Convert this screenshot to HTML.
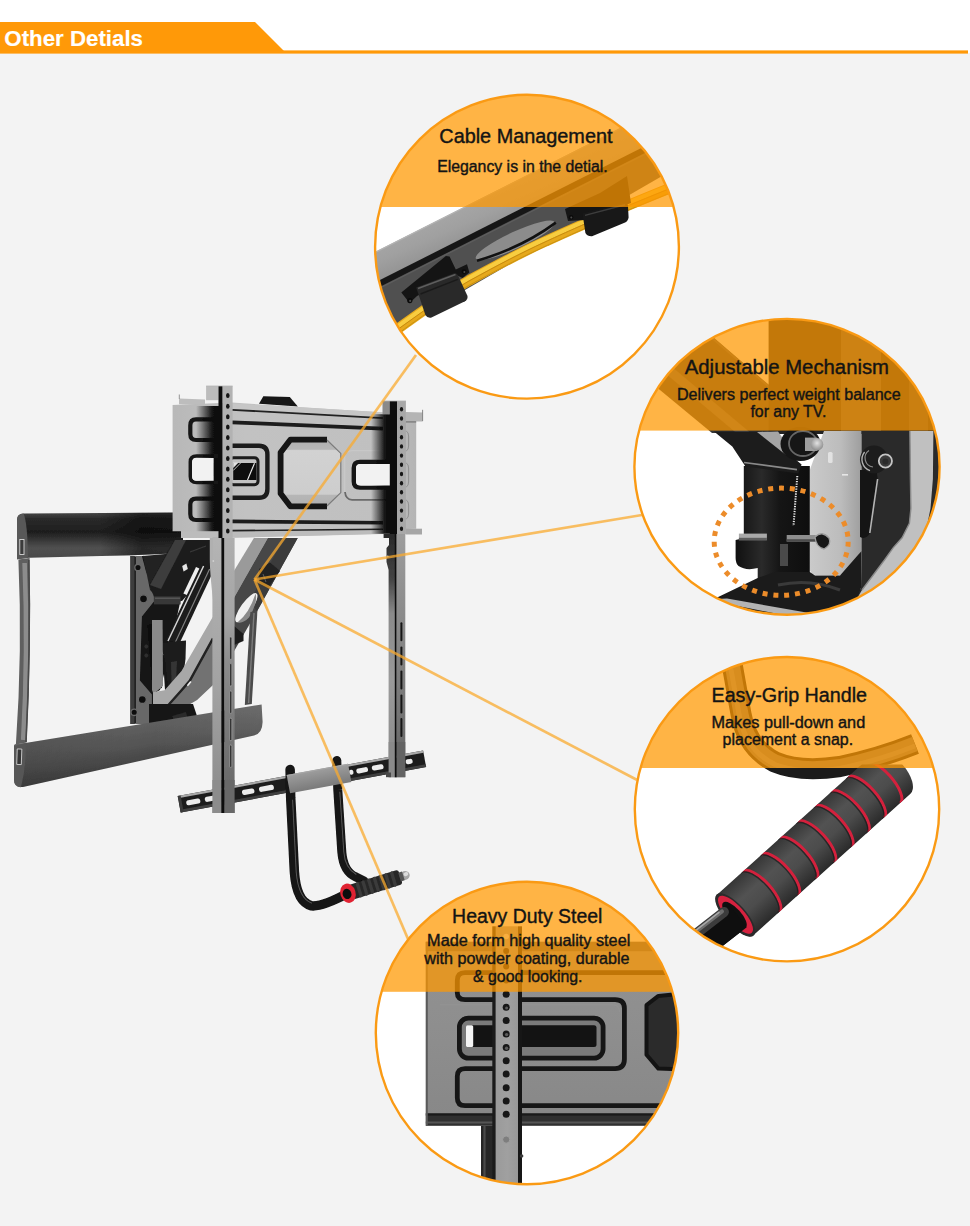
<!DOCTYPE html>
<html lang="en">
<head>
<meta charset="utf-8">
<title>Other Detials</title>
<style>
  html, body { margin: 0; padding: 0; background: #ffffff; }
  body { width: 970px; height: 1226px; overflow: hidden; font-family: "Liberation Sans", sans-serif; }
  svg { display: block; }
  text { font-family: "Liberation Sans", sans-serif; fill: #141414; stroke: #141414; stroke-width: 0.4px; }
</style>
</head>
<body>
<svg width="970" height="1226" viewBox="0 0 970 1226">
  <defs>
    <filter id="soft" x="-2%" y="-2%" width="104%" height="104%"><feGaussianBlur stdDeviation="0.45"/></filter>
    <clipPath id="c1"><circle cx="527" cy="246.7" r="151.6"/></clipPath>
    <clipPath id="c2"><ellipse cx="787" cy="466.8" rx="152.3" ry="147.6"/></clipPath>
    <clipPath id="c3"><circle cx="787" cy="809.2" r="152"/></clipPath>
    <clipPath id="c4"><circle cx="527" cy="1033" r="151"/></clipPath>
  </defs>

  <!-- page background -->
  <rect x="0" y="0" width="970" height="1226" fill="#ffffff"/>
  <rect x="0" y="53" width="970" height="1173" fill="#f3f3f3"/>

  <!-- header -->
  <g id="header">
    <polygon points="0,22 255,22 284,51 0,51" fill="#ff9908"/>
    <rect x="0" y="50.4" width="968" height="3.2" fill="#ff9908"/>
    <text x="4.3" y="46.3" font-size="22" font-weight="bold" style="fill:#ffffff;stroke:#ffffff;stroke-width:0.15px" textLength="138.7" lengthAdjust="spacingAndGlyphs">Other Detials</text>
  </g>

  <!-- PRODUCT -->
  <g id="product" filter="url(#soft)">
    <defs>
      <linearGradient id="gTopBar" x1="0" y1="0" x2="0" y2="1">
        <stop offset="0" stop-color="#484848"/><stop offset="0.14" stop-color="#2a2a2a"/><stop offset="0.42" stop-color="#1e1e1e"/>
        <stop offset="0.76" stop-color="#505050"/><stop offset="0.95" stop-color="#4a4a4a"/><stop offset="1" stop-color="#2a2a2a"/>
      </linearGradient>
      <linearGradient id="gTopBarShade" x1="0" y1="0" x2="1" y2="0">
        <stop offset="0" stop-color="#000" stop-opacity="0"/><stop offset="0.5" stop-color="#000" stop-opacity="0"/>
        <stop offset="0.75" stop-color="#000" stop-opacity="0.5"/><stop offset="1" stop-color="#000" stop-opacity="0.45"/>
      </linearGradient>
      <linearGradient id="gBotBar" gradientUnits="userSpaceOnUse" x1="130" y1="722" x2="138" y2="770">
        <stop offset="0" stop-color="#2a2a2a"/><stop offset="0.05" stop-color="#606060"/>
        <stop offset="0.5" stop-color="#545454"/><stop offset="1" stop-color="#3e3e3e"/>
      </linearGradient>
      <linearGradient id="gBotBarX" gradientUnits="userSpaceOnUse" x1="20" y1="0" x2="262" y2="0"><stop offset="0" stop-color="#000" stop-opacity="0.12"/><stop offset="0.45" stop-color="#000" stop-opacity="0"/><stop offset="0.55" stop-color="#fff" stop-opacity="0"/><stop offset="1" stop-color="#fff" stop-opacity="0.08"/></linearGradient>
      <linearGradient id="gPlate" x1="0" y1="0" x2="1" y2="0">
        <stop offset="0" stop-color="#b8b8b8"/><stop offset="0.3" stop-color="#c2c2c2"/><stop offset="0.85" stop-color="#c0c0c0"/><stop offset="1" stop-color="#b4b4b4"/>
      </linearGradient>
      <linearGradient id="gShadL" gradientUnits="userSpaceOnUse" x1="196" y1="0" x2="216" y2="0">
        <stop offset="0" stop-color="#0c0c0c" stop-opacity="0"/><stop offset="0.8" stop-color="#0c0c0c" stop-opacity="0.95"/><stop offset="1" stop-color="#0c0c0c"/>
      </linearGradient>
      <linearGradient id="gShadR" gradientUnits="userSpaceOnUse" x1="371" y1="0" x2="388" y2="0">
        <stop offset="0" stop-color="#0c0c0c" stop-opacity="0"/><stop offset="0.8" stop-color="#0c0c0c" stop-opacity="0.95"/><stop offset="1" stop-color="#0c0c0c"/>
      </linearGradient>
      <linearGradient id="gRailLR" gradientUnits="userSpaceOnUse" x1="0" y1="540" x2="0" y2="810">
        <stop offset="0" stop-color="#aeaeae"/><stop offset="0.28" stop-color="#a6a6a6"/><stop offset="0.45" stop-color="#8c8c8c"/><stop offset="0.6" stop-color="#808080"/><stop offset="0.82" stop-color="#707070"/><stop offset="1" stop-color="#646464"/>
      </linearGradient>
      <linearGradient id="gRailLL" gradientUnits="userSpaceOnUse" x1="0" y1="540" x2="0" y2="810">
        <stop offset="0" stop-color="#b4b4b4"/><stop offset="0.55" stop-color="#a2a2a2"/><stop offset="1" stop-color="#8a8a8a"/>
      </linearGradient>
      <linearGradient id="gRailRL" gradientUnits="userSpaceOnUse" x1="0" y1="535" x2="0" y2="780">
        <stop offset="0" stop-color="#2a2a2a"/><stop offset="0.18" stop-color="#444444"/><stop offset="0.32" stop-color="#8a8a8a"/><stop offset="0.6" stop-color="#9a9a9a"/><stop offset="1" stop-color="#888888"/>
      </linearGradient>
      <linearGradient id="gRailRR" gradientUnits="userSpaceOnUse" x1="0" y1="535" x2="0" y2="780">
        <stop offset="0" stop-color="#9c9c9c"/><stop offset="0.35" stop-color="#8a8a8a"/><stop offset="0.7" stop-color="#767676"/><stop offset="1" stop-color="#606060"/>
      </linearGradient>
      <linearGradient id="gSleeve" x1="0" y1="0" x2="0" y2="1">
        <stop offset="0" stop-color="#9e9e9e"/><stop offset="0.5" stop-color="#8c8c8c"/><stop offset="1" stop-color="#7a7a7a"/>
      </linearGradient>
      <linearGradient id="gOct" x1="0" y1="0" x2="0" y2="1">
        <stop offset="0" stop-color="#b0b0b0"/><stop offset="0.14" stop-color="#b6b6b6"/><stop offset="0.16" stop-color="#d2d2d2"/>
        <stop offset="0.82" stop-color="#cdcdcd"/><stop offset="0.84" stop-color="#b6b6b6"/><stop offset="1" stop-color="#b0b0b0"/>
      </linearGradient>
    </defs>

    <!-- wall bracket: top bar -->
    <path d="M17,520 Q17,513.4 23.5,513.4 L183,512.4 L183,553 L132,555.3 L29,557.7 L17,559.2 Z" fill="url(#gTopBar)"/>
    <path d="M17,520 Q17,513.4 23.5,513.4 L183,512.4 L183,553 L132,555.3 L29,557.7 L17,559.2 Z" fill="url(#gTopBarShade)"/>
    <path d="M17,520 Q17,513.4 23.5,513.4 Q27.5,522 28,557.7 L17,559.2 Z" fill="#585858"/>
    <rect x="19.8" y="539.5" width="4.2" height="15" fill="#3a3a3a" stroke="#d8d8d8" stroke-width="0.9"/>
    <!-- wall bracket: left vertical strip -->
    <path d="M18.4,559.5 L29.6,558 Q31.5,650 26.6,742.5 L15.9,744.5 Q22.5,650 18.4,559.5 Z" fill="#5e5e5e"/>
    <path d="M24.6,563 Q28.2,650 23.2,740" fill="none" stroke="#8c8c8c" stroke-width="4.6"/>
    <path d="M28.8,560 Q30.7,650 26,742" fill="none" stroke="#484848" stroke-width="1.6"/>

    <!-- mechanism plate (dark) -->
    <path d="M130.3,556 L143,556 L147,571 L155,589 L155,602 L143,617 L141,680 L153,694 L153,724 L130.3,724 Z" fill="#686868"/>
    <path d="M143,556 L147,571 L155,589 L155,602 L143,617 L141,680 L153,694 L153,724" fill="none" stroke="#141414" stroke-width="2.2" stroke-linejoin="round"/>
    <rect x="130.3" y="556" width="4.6" height="168" fill="#3c3c3c"/>
    <path d="M135.2,557 L135.2,723" stroke="#111111" stroke-width="1.2"/>
    <!-- mechanism internals -->
    <path d="M143,617 L155,602 L181,598 L170,650 L160,690 L153,694 L141,680 Z" fill="#171717"/>
    <path d="M147,625 L156,622 L162,688 L152,690 Z" fill="#111"/>
    <path d="M160,610 L168,612 L172,690 L165,690 Z" fill="#151515"/>
    <path d="M143,556 L176,553 L176,562 L156,596 L150,590 Z" fill="#242424"/>
    <!-- upper arm (dark channel) -->
    <path d="M174,540 L213,540 L213,566 L182,601 L155,599 L149,585 Z" fill="#1e1e1e"/>
    <path d="M175,540 L186,540 L161,589 L150,585 Z" fill="#3c3c3c"/>
    <path d="M154,596.4 L180.6,596.4 L180.6,604.4 L154,604.4 Z" fill="#383838"/>
    <path d="M155,598.2 L180,598.2" stroke="#5c5c5c" stroke-width="1.2"/>
    <path d="M182.2,566 L186.4,563.6 L187.8,569 L183.6,571.4 Z" fill="#e6e6e6"/>
    <path d="M190,552 L206,546" stroke="#3a3a3a" stroke-width="1.2"/>
    <!-- gas springs -->
    <line x1="208" y1="566" x2="171.5" y2="644" stroke="#1a1a1a" stroke-width="14"/>
    <line x1="203.6" y1="566" x2="168" y2="641" stroke="#d4d4d4" stroke-width="1.5"/>
    <path d="M196,567 L199.4,568.6 L186.8,595 L183.4,593.4 Z" fill="#f0f0f0"/>
    <line x1="209.6" y1="569" x2="175" y2="643" stroke="#808080" stroke-width="1.2"/>
    <path d="M160,646 L182,646 L181,656 L165,659 Z" fill="#232323"/>
    <circle cx="165.4" cy="651.6" r="3.6" fill="#2a2a2a" stroke="#7a7a7a" stroke-width="1"/>
    <path d="M160,643 L186,640.5 L185.5,659 L182,685 L168,691 L165,660 Z" fill="#1b1b1b"/>
    <path d="M171,662 L177,661 L176,684 L171.5,686 Z" fill="#343434"/>
    <path d="M152,620 L162.6,620 L163,686 L153.5,694 L152,690 Z" fill="#8a8a8a"/>
    <!-- lower arm (grey) -->
    <path d="M213,616.5 L213,638.4 L189.7,680.9 L180,692 L167.5,706 L153,706 L153,692.3 L164.6,690.3 L181.5,671 Z" fill="#a8a8a8"/>
    <path d="M213,638.4 L213,684.9 L197.1,700 L186,706.6 L167.5,706 L180,692 L189.7,680.9 Z" fill="#727272"/>
    <path d="M213,638.4 L189.7,680.9 L180,692 L167.5,706" stroke="#202020" stroke-width="2.4" fill="none" stroke-linejoin="round"/>
    <line x1="187.4" y1="685.8" x2="190.9" y2="681.6" stroke="#f0f0f0" stroke-width="1.6"/>
    <!-- clamp block -->
    <path d="M149,704 L193,704 L197,716 L187,722 L168,724 L149,724 Z" fill="#151515"/>
    <path d="M172,716 L186,712 L188,720 L176,724 Z" fill="#2a2a2a"/>
    <!-- bolts on mechanism plate -->
    <g fill="#101010" stroke="#6a6a6a" stroke-width="1.3">
      <circle cx="138" cy="567.5" r="3.2"/><circle cx="143.5" cy="598.8" r="4"/>
      <circle cx="142.3" cy="699.5" r="4"/><circle cx="134.2" cy="712.3" r="3.2"/>
    </g>
    <g fill="#2e2e2e"><circle cx="146.3" cy="646.5" r="2"/><circle cx="146.3" cy="655.5" r="2"/></g>

    <!-- arm right of left rail -->
    <path d="M253.9,538 L267.8,538 L233,599.4 L233,572.4 Z" fill="#9a9a9a"/>
    <path d="M267.8,538 L297.7,538 L256.9,611.6 L233,653 L233,599.4 Z" fill="#464646"/>
    <path d="M284,538 L297.7,538 L256.9,611.6 L250,601 Z" fill="#3a3a3a"/>
    <ellipse cx="246.4" cy="607.7" rx="5.4" ry="17.5" transform="rotate(35.7 246.4 607.7)" fill="#f1f1f1"/>
    <path d="M255.6,593.6 Q258,603 249,617.6 Q243,624 237.4,622.4 Q249,614 255.6,593.6 Z" fill="#8a8a8a"/>
    <path d="M234,626 L243.5,634 L243.5,641 L234,645 Z" fill="#1d1d1d"/>
    <path d="M259,569 L270,562.5 L280,571 L268,588 L259,583 Z" fill="#222222"/>
    <line x1="263" y1="574" x2="266" y2="582" stroke="#5a5a5a" stroke-width="1"/>
    <!-- thin strut -->
    <path d="M250.4,612 L257.4,611 L251.8,704 L244.8,705 Z" fill="#4b4b4b"/>
    <path d="M254,613 L248.6,703" stroke="#7b7b7b" stroke-width="1.4" fill="none"/>

    <!-- wall bracket: bottom bar -->
    <path d="M14,746 Q14,744.4 16,744.2 L25.5,743 L261.6,704.4 L262.6,722 Q262.4,733.5 254,735.5 L23,787 Q14,788 14,779 Z" fill="url(#gBotBar)"/>
    <path d="M14,746 Q14,744.4 16,744.2 L25.5,743 Q26.5,765 21,787.3 Q14,787.5 14,779 Z" fill="#626262"/>
    <path d="M14,779 Q14,788 23,787 L254,735.5 Q262.4,733.5 262.6,722 L261.6,704.4 L25.5,743 L14,746 Z" fill="url(#gBotBarX)"/>
    <rect x="17" y="749" width="4.6" height="15.5" fill="#343434" stroke="#d0d0d0" stroke-width="0.9" transform="rotate(2 19 756)"/>

    <!-- black block behind the plate top -->
    <path d="M263.3,396.3 L289.8,397 L297.8,406.6 L259,403.8 Z" fill="#151515"/>

    <!-- MAIN PLATE -->
    <path d="M179,398.6 L205,399.6 L205,405 L179,404.3 Z" fill="#bdbdbd"/>
    <path d="M179.3,394.5 L179.3,399" stroke="#8a8a8a" stroke-width="0.9"/>
    <path d="M172.6,405 L232,402.6 L383,412.4 L406,421.6 L416.2,421.6 L416.2,528.7 L406,529 L383,533.8 L232,537.6 L181,537.9 L181,531.3 L172.6,531.3 Z" fill="url(#gPlate)"/>
    <!-- top lip (right of left rail) -->
    <path d="M232,403.4 L383,412.2 L383,417.8 L232,409.4 Z" fill="#c6c6c6"/>
    <path d="M232,409.8 L383,418.2" stroke="#222222" stroke-width="1.8" fill="none"/>
    <!-- right-end lips -->
    <path d="M405.5,412 L422.8,412.6 L422.8,421.6 L405.5,421.6 Z" fill="#b4b4b4"/>
    <path d="M422.6,409.8 L422.6,421" stroke="#7d7d7d" stroke-width="0.9"/>
    <path d="M405.5,528.7 L422,528.7 L422,534.5 L405.5,534.5 Z" fill="#a6a6a6"/>
    <path d="M405.5,421.9 L416.2,421.9" stroke="#4a4a4a" stroke-width="0.8"/>
    <!-- bottom lip -->
    <path d="M181,531.6 L232,530.8 L383,529.6 L383,534 L232,537.8 L181,538 Z" fill="#bcbcbc"/>
    <path d="M232,530.6 L383,529.3" stroke="#222222" stroke-width="1.6" fill="none"/>
    <!-- ribs -->
    <path d="M232,422.3 L383,428.6" stroke="#1a1a1a" stroke-width="3.8" fill="none"/>
    <path d="M232,521.4 L383,522.8" stroke="#1a1a1a" stroke-width="3.6" fill="none"/>
    <!-- left slot groove (outer) -->
    <path d="M232,445.8 L259,445.8 Q267.4,445.8 267.4,454.5 L267.4,489 Q267.4,497.8 259,497.8 L232,497.8" fill="none" stroke="#1a1a1a" stroke-width="4.4"/>
    <!-- left inner slot -->
    <rect x="230" y="457.8" width="28" height="27" rx="3.5" fill="#c2c2c2" stroke="#1a1a1a" stroke-width="3"/>
    <path d="M233.2,463 L256.4,463 L256.4,480 L233.2,480 Z" fill="#0f0f0f"/>
    <path d="M233.2,468 L238.6,462.6 L233.2,462.6 Z" fill="#e4e4e4"/>
    <path d="M247.5,480 L254.5,463.2" stroke="#efefef" stroke-width="1.1"/>
    <path d="M233.2,470.5 L240.8,462.8" stroke="#cfcfcf" stroke-width="0.9"/>
    <!-- octagon -->
    <path d="M290.5,440 L327,440 L340.8,453.4 L340.8,492.6 L327,506 L290.5,506 L281,493.5 L281,452.5 Z" fill="url(#gOct)"/>
    <path d="M327,439.6 L290.5,439.6 L280.6,452.4 L280.6,493.6 L290.5,506.4 L327,506.4" fill="none" stroke="#151515" stroke-width="5.8" stroke-linejoin="round"/>
    <path d="M327,440 L340.8,453.4 L340.8,492.6 L327,506" fill="none" stroke="#7a7a7a" stroke-width="1.2"/>
    <!-- right slot outer outline -->
    <path d="M388,450.6 L352,450.6 Q344.6,450.6 344.6,458 L344.6,491.5 Q344.6,499.6 352,499.6 L388,499.6" fill="none" stroke="#c8c8c8" stroke-width="1.4"/>
    <path d="M388,499.8 L352,499.8 Q345.6,499.4 345,492" fill="none" stroke="#6a6a6a" stroke-width="1.8"/>
    <!-- right inner slot -->
    <path d="M390,461.9 L360,461.9 Q353.8,461.9 353.8,468 L353.8,481.5 Q353.8,487.6 360,487.6 L390,487.6 Z" fill="#f2f2f2" stroke="#151515" stroke-width="4.4"/>
    <!-- left loops -->
    <g fill="none" stroke="#151515" stroke-width="4.2">
      <path d="M214,419.4 L196,419.4 Q190.3,419.4 190.3,425.5 L190.3,434 Q190.3,440 196,440 L214,440"/>
      <path d="M214,498.6 L196,498.6 Q190.3,498.6 190.3,504.5 L190.3,514 Q190.3,520 196,520 L214,520"/>
    </g>
    <path d="M216,456 L196.5,456 Q190.3,456 190.3,462 L190.3,476.5 Q190.3,482.6 196.5,482.6 L216,482.6 Z" fill="#f2f2f2" stroke="#151515" stroke-width="3.5"/>
    <!-- shadows beside rails -->
    <rect x="196" y="406" width="23" height="125.2" fill="url(#gShadL)"/>
    <rect x="371" y="414.2" width="19.5" height="119.6" fill="url(#gShadR)"/>
    <path d="M213.6,457.9 L197,457.9 Q192.1,457.9 192.1,462.6 L192.1,476 Q192.1,480.8 197,480.8 L213.6,480.8 Z" fill="#f2f2f2"/>
    <path d="M390,464.1 L361,464.1 Q356,464.1 356,468.6 L356,481 Q356,485.4 361,485.4 L390,485.4 Z" fill="#f2f2f2"/>
    <path d="M214,456 L219,456 M214,482.6 L219,482.6" stroke="#151515" stroke-width="3.5"/>

    <!-- LEFT RAIL -->
    <rect x="206.1" y="386" width="12.6" height="14.2" fill="#bcbcbc"/>
    <rect x="212.4" y="537" width="9.4" height="276" fill="url(#gRailLL)"/>
    <path d="M209.8,538 L213,538 L213,600 Q210,575 209.8,560 Z" fill="#b0b0b0"/>
    <rect x="218.5" y="386" width="4.2" height="152" fill="#0d0d0d"/>
    <rect x="221.4" y="538" width="3.2" height="275" fill="#0d0d0d"/>
    <rect x="222.6" y="386" width="10" height="152" fill="#b2b2b2"/>
    <rect x="224.4" y="538" width="10.2" height="275" fill="url(#gRailLR)"/>
    <path d="M206.1,386 L232.6,386" stroke="#b5b5b5" stroke-width="0.8"/>
    <g fill="#141414">
      <ellipse cx="227.8" cy="395.6" rx="1.8" ry="2.5"/><ellipse cx="227.8" cy="406.2" rx="1.8" ry="2.5"/>
      <ellipse cx="227.8" cy="416.7" rx="1.8" ry="2.5"/><ellipse cx="227.8" cy="427.1" rx="1.8" ry="2.5"/>
      <ellipse cx="227.8" cy="437.6" rx="1.8" ry="2.5"/><ellipse cx="227.8" cy="448.1" rx="1.8" ry="2.5"/>
      <ellipse cx="227.8" cy="458.6" rx="1.8" ry="2.5"/><ellipse cx="227.8" cy="468.9" rx="1.8" ry="2.5"/>
      <ellipse cx="227.8" cy="479.3" rx="1.8" ry="2.5"/><ellipse cx="227.8" cy="489.8" rx="1.8" ry="2.5"/>
      <ellipse cx="227.8" cy="500.1" rx="1.8" ry="2.5"/><ellipse cx="227.8" cy="510.5" rx="1.8" ry="2.5"/>
      <ellipse cx="227.8" cy="520.8" rx="1.8" ry="2.5"/><ellipse cx="227.8" cy="531.1" rx="1.8" ry="2.5"/>
    </g>
    <g fill="#2e2e2e" stroke="#b0b0b0" stroke-width="0.6">
      <rect x="229.6" y="637" width="2.2" height="22.4" rx="1.1"/><rect x="229.6" y="663.6" width="2.2" height="22.4" rx="1.1"/>
      <rect x="229.6" y="691" width="2.2" height="22.4" rx="1.1"/><rect x="229.6" y="718.2" width="2.2" height="22.4" rx="1.1"/>
      <rect x="229.6" y="745" width="2.2" height="22.4" rx="1.1"/>
    </g>
    <circle cx="213.3" cy="561" r="0.9" fill="#d0d0d0"/>

    <!-- RIGHT RAIL -->
    <rect x="382.5" y="401" width="7.4" height="13.2" fill="#8a8a8a"/>
    <path d="M383.6,538 L389,538 L389,545 L386.5,548 L386.5,562 L388.6,570 L388.6,777.2 L395.4,777.2 L395.4,534 L383.6,534 Z" fill="url(#gRailRL)"/>
    <rect x="389.8" y="401" width="7.4" height="133" fill="#0d0d0d"/>
    <rect x="394.8" y="534" width="2" height="243.2" fill="#0d0d0d"/>
    <rect x="397" y="401" width="8.9" height="133" fill="#a8a8a8"/>
    <rect x="396.6" y="534" width="8.7" height="243.2" fill="url(#gRailRR)"/>
    <path d="M382.5,401 L405.9,401" stroke="#b0b0b0" stroke-width="0.8"/>
    <g fill="#141414">
      <ellipse cx="401.5" cy="409.2" rx="1.6" ry="2.2"/><ellipse cx="401.5" cy="418.5" rx="1.6" ry="2.2"/>
      <ellipse cx="401.5" cy="427.8" rx="1.6" ry="2.2"/><ellipse cx="401.5" cy="437.2" rx="1.6" ry="2.2"/>
      <ellipse cx="401.5" cy="446.4" rx="1.6" ry="2.2"/><ellipse cx="401.5" cy="455.6" rx="1.6" ry="2.2"/>
      <ellipse cx="401.5" cy="464.8" rx="1.6" ry="2.2"/><ellipse cx="401.5" cy="474" rx="1.6" ry="2.2"/>
      <ellipse cx="401.5" cy="483.2" rx="1.6" ry="2.2"/><ellipse cx="401.5" cy="492.3" rx="1.6" ry="2.2"/>
      <ellipse cx="401.5" cy="501.5" rx="1.6" ry="2.2"/><ellipse cx="401.5" cy="510.6" rx="1.6" ry="2.2"/>
      <ellipse cx="401.5" cy="519.7" rx="1.6" ry="2.2"/><ellipse cx="401.5" cy="528.7" rx="1.6" ry="2.2"/>
    </g>
    <g fill="#161616">
      <rect x="400.4" y="622.3" width="2" height="19" rx="1"/><rect x="400.4" y="646.6" width="2" height="19" rx="1"/>
      <rect x="400.4" y="670.4" width="2" height="19" rx="1"/><rect x="400.4" y="694.4" width="2" height="19" rx="1"/>
      <rect x="400.4" y="718" width="2" height="19" rx="1"/>
    </g>
    <circle cx="387.7" cy="556.6" r="1" fill="#c8c8c8"/>
    <g fill="none" stroke="#7f7f7f" stroke-width="0.7">
      <path d="M406.2,431 Q408.6,432 408.6,436 L408.6,446 Q408.6,450 406.2,451"/>
      <path d="M406.2,463 Q408.6,464 408.6,468 L408.6,482 Q408.6,486 406.2,487"/>
      <path d="M406.2,500 Q408.6,501 408.6,505 L408.6,514 Q408.6,518 406.2,519"/>
    </g>

    <!-- BOTTOM CROSSBAR -->
    <g transform="translate(179.2 804.3) rotate(-10.5)">
      <rect x="0" y="-8.4" width="249.6" height="16.8" fill="#1d1d1d"/>
      <rect x="0" y="-8.4" width="249.6" height="2.2" fill="#a8a8a8"/>
      <rect x="0" y="5.6" width="249.6" height="2.8" fill="#3f3f3f"/>
      <rect x="0" y="-8.4" width="3" height="16.8" fill="#3a3a3a"/>
      <g fill="#ececec">
        <rect x="7.2" y="-2.4" width="14.2" height="5.2" rx="2.4"/>
        <rect x="26.1" y="-2.4" width="12" height="5.2" rx="2.4"/>
        <rect x="63.9" y="-2.4" width="12.5" height="5.2" rx="2.4"/>
        <rect x="81.2" y="-2.4" width="15" height="5.2" rx="2.4"/>
        <rect x="172.8" y="-2.6" width="4.4" height="5" rx="2.2"/>
        <rect x="180.2" y="-2.6" width="11.8" height="5" rx="2.4"/>
        <rect x="196" y="-2.6" width="11.8" height="5" rx="2.4"/>
        <rect x="230.4" y="-2.6" width="7" height="5" rx="2.2"/>
      </g>
    </g>
    <!-- redraw rail bottoms over crossbar -->
    <rect x="212.4" y="780" width="9.4" height="33" fill="#8c8c8c"/>
    <rect x="221.4" y="780" width="3.2" height="33" fill="#0d0d0d"/>
    <rect x="224.4" y="780" width="10.2" height="33" fill="#686868"/>
    <rect x="388.6" y="742" width="6.8" height="35.2" fill="#8a8a8a"/>
    <rect x="386" y="772.5" width="5" height="4.7" fill="#4a4a4a"/>
    <rect x="394.8" y="742" width="2" height="35.2" fill="#0d0d0d"/>
    <rect x="396.6" y="742" width="8.7" height="35.2" fill="#646464"/>

    <!-- HANDLE -->
    <g fill="none" stroke-linecap="round" stroke-linejoin="round">
      <path d="M336.8,760.5 L337.8,790 L341.8,852 Q343.5,872 356,877 L364,881" stroke="#131313" stroke-width="9"/>
      <path d="M290.1,769.5 L290.7,798 L294.4,872 Q296.5,902 311.5,905.8 Q322,907 347.5,893.4" stroke="#131313" stroke-width="9.5"/>
      <path d="M292.6,800 L296.2,872 Q298.4,898 311.5,903" stroke="#555555" stroke-width="1.1"/>
      <path d="M339.8,792 L343.8,852 Q345,868 356,874.2" stroke="#555555" stroke-width="1.1"/>
    </g>
    <g transform="translate(179.2 804.3) rotate(-10.5)">
      <rect x="111" y="-9.2" width="62.4" height="18.6" fill="url(#gSleeve)"/>
      <rect x="111" y="-9.2" width="62.4" height="1.2" fill="#a6a6a6"/>
    </g>
    <g transform="translate(347.5 893.4) rotate(-17.35)">
      <rect x="0" y="-7.7" width="55.5" height="15.4" rx="3" fill="#262626"/>
      <g fill="#3a3a3a">
        <rect x="10.5" y="-7.9" width="3.4" height="15.8" rx="1.7"/><rect x="16.5" y="-7.9" width="3.4" height="15.8" rx="1.7"/>
        <rect x="22.5" y="-7.9" width="3.4" height="15.8" rx="1.7"/><rect x="28.5" y="-7.9" width="3.4" height="15.8" rx="1.7"/>
        <rect x="34.5" y="-7.9" width="3.4" height="15.8" rx="1.7"/><rect x="40.5" y="-7.9" width="3.4" height="15.8" rx="1.7"/>
        <rect x="46.5" y="-7.9" width="3.4" height="15.8" rx="1.7"/>
      </g>
      <ellipse cx="60" cy="0" rx="5" ry="4.4" fill="#a6a6a6"/>
      <ellipse cx="61.5" cy="-1" rx="2.4" ry="2" fill="#dddddd"/>
      <rect x="54.5" y="-4.6" width="4" height="9.2" fill="#555555"/>
      <ellipse cx="0.5" cy="0" rx="7.6" ry="9.8" fill="#e02432"/>
      <ellipse cx="-0.6" cy="0.4" rx="4.4" ry="5.2" fill="#101010"/>
    </g>
  </g>

  <!-- callout lines -->
  <g id="lines" stroke="#f9aa2f" stroke-opacity="0.74" stroke-width="2.7" stroke-linecap="butt" fill="none" filter="url(#soft)">
    <line x1="254.5" y1="579.5" x2="416" y2="355"/>
    <line x1="254.5" y1="579.5" x2="642" y2="515"/>
    <line x1="254.5" y1="579.5" x2="641" y2="782"/>
    <line x1="254.5" y1="579.5" x2="408" y2="939"/>
  </g>

  <!-- CIRCLE 1 : Cable Management -->
  <g id="circle1">
    <circle cx="527" cy="246.7" r="152.7" fill="#ffffff"/>
    <g clip-path="url(#c1)" id="c1content">
      <defs>
        <linearGradient id="gBarTop" gradientUnits="userSpaceOnUse" x1="500" y1="189" x2="514" y2="221">
          <stop offset="0" stop-color="#a6a6a6"/><stop offset="0.5" stop-color="#a0a0a0"/><stop offset="1" stop-color="#949494"/>
        </linearGradient>
        <linearGradient id="gCable" gradientUnits="userSpaceOnUse" x1="500" y1="258" x2="505" y2="268">
          <stop offset="0" stop-color="#f8cf45"/><stop offset="0.45" stop-color="#f1b521"/><stop offset="0.55" stop-color="#c98d10"/><stop offset="0.62" stop-color="#f2bb2c"/><stop offset="1" stop-color="#d99a14"/>
        </linearGradient>
      </defs>
      <!-- bar top face -->
      <path d="M370,254.4 L690,92.8 L690,124.2 L370,285.8 Z" fill="url(#gBarTop)"/>
      <path d="M370,255 L690,93.4" stroke="#b4b4b4" stroke-width="1.2" fill="none"/>
      <!-- bar side face -->
      <path d="M370,285.8 L690,124.2 L690,160 L370,345 Z" fill="#505050"/>
      <path d="M370,288.4 L690,126.8" stroke="#161616" stroke-width="6" fill="none"/>
      <path d="M370,293 L690,131.4" stroke="#5e5e5e" stroke-width="1.2" fill="none"/>
      <!-- oval -->
      <ellipse cx="515.3" cy="240.2" rx="43.5" ry="8.4" transform="rotate(-24.8 515.3 240.2)" fill="#8c8c8c"/>
      <path d="M477,260.8 Q522,247.6 555.8,222.6" stroke="#111111" stroke-width="2.6" fill="none"/>
      <!-- cable -->
      <path d="M392,333 C428,307 450,291.5 469,280.5 C500,263.5 520,253 545,241.5 C570,230 600,216 690,180" fill="none" stroke="#e6a91c" stroke-width="10.6"/>
      <path d="M392,330.6 C428,304.6 450,289 469,278 C500,261 520,250.5 545,239 C570,227.5 600,213.5 690,177.5" fill="none" stroke="#f8cd40" stroke-width="4.2"/>
      <path d="M392,333.6 C428,307.6 450,292 469,281 C500,264 520,253.5 545,242 C570,230.5 600,216.5 690,180.5" fill="none" stroke="#c58a10" stroke-width="1"/>
      <path d="M392,338 C428,312 450,296.4 469,285.4 C500,268.4 520,258 545,246.4 C570,235 600,221 690,185" fill="none" stroke="#c99012" stroke-width="1"/>
      <!-- clip 1 -->
      <path d="M401.3,292.4 L445.9,256.1 L449.6,256.6 L455.8,269.6 L467,264.3 L469.4,272.6 L462.4,278 L456.5,275 L417,296 L409.6,303 Z" fill="#141414"/>
      <path d="M416.2,287.4 L453.5,273.4 Q456.5,272.6 458,275.5 L467.5,296 Q468,299.5 465,301.2 L431.5,317.6 Q427.6,318.6 425.4,315 Z" fill="#292929"/>
      <path d="M418,288.6 L455.5,274.6" stroke="#5e5e5e" stroke-width="1.6" fill="none"/>
      <path d="M420.5,294 L457.8,279.4" stroke="#1a1a1a" stroke-width="1.4" fill="none"/>
      <circle cx="409.8" cy="300.6" r="2.6" fill="#0a0a0a"/><circle cx="410.2" cy="300.9" r="1.1" fill="#4a4a4a"/>
      <circle cx="464" cy="271.6" r="2.4" fill="#0a0a0a"/><circle cx="464.4" cy="271.9" r="1" fill="#4a4a4a"/>
      <!-- clip 2 -->
      <path d="M565,209 L600,193 L627,176 L631,203 L585,220 L568,221 Z" fill="#151515"/>
      <path d="M582.5,213.6 L624.5,202.6 Q627.6,202.6 628,206 L628.6,217.6 Q628,221.5 624.5,222.8 L592,236.3 Q587.5,236.6 585.4,233 Z" fill="#181818"/>
      <path d="M585,215.4 L625,204.8" stroke="#3d3d3d" stroke-width="1.5" fill="none"/>
      <circle cx="571" cy="217.3" r="2.3" fill="#0b0b0b"/><circle cx="571.3" cy="217.6" r="1" fill="#4a4a4a"/>
    </g>
    <g clip-path="url(#c1)"><rect x="370" y="90" width="320" height="117" fill="#ff9800" fill-opacity="0.73"/></g>
    <circle cx="527" cy="246.7" r="151.9" fill="none" stroke="#fa9a14" stroke-width="2.4"/>
    <text x="439.3" y="143.4" font-size="20" textLength="173.2" lengthAdjust="spacingAndGlyphs">Cable Management</text>
    <text x="437.2" y="171.5" font-size="16" textLength="170.5" lengthAdjust="spacingAndGlyphs">Elegancy is in the detial.</text>
  </g>

  <!-- CIRCLE 2 : Adjustable Mechanism -->
  <g id="circle2">
    <ellipse cx="787" cy="466.8" rx="153.4" ry="148.7" fill="#ffffff"/>
    <g clip-path="url(#c2)" id="c2content">
      <defs>
        <linearGradient id="gC2plate" x1="0" y1="0" x2="1" y2="0">
          <stop offset="0" stop-color="#cacaca"/><stop offset="0.6" stop-color="#bcbcbc"/><stop offset="1" stop-color="#9e9e9e"/>
        </linearGradient>
        <linearGradient id="gC2cyl" x1="0" y1="0" x2="1" y2="0">
          <stop offset="0" stop-color="#101010"/><stop offset="0.35" stop-color="#2a2a2a"/><stop offset="0.6" stop-color="#151515"/><stop offset="1" stop-color="#0e0e0e"/>
        </linearGradient>
        <radialGradient id="gC2stud" cx="0.5" cy="0.4" r="0.6">
          <stop offset="0" stop-color="#e2e2e2"/><stop offset="1" stop-color="#8a8a8a"/>
        </radialGradient>
      </defs>
      <!-- diagonal arm (mostly in band) -->
      <path d="M690,317.2 L770,385.8 L770,433 L712,433 L640,373.6 Z" fill="#363636"/>
      <path d="M640,340 L770,449.2 L770,461.2 L640,352 Z" fill="#565656"/>
      <path d="M690,319 L770,387.6" stroke="#4c4c4c" stroke-width="2" fill="none"/>
      <!-- dark vertical region in band -->
      <rect x="768.6" y="310" width="190" height="124" fill="#222222"/>
      <rect x="841" y="310" width="40" height="124" fill="#474747"/>
      <rect x="909" y="310" width="19" height="124" fill="#3c3c3c"/>
      <!-- grey plate -->
      <path d="M824,431 L861.5,431 L861.5,551 L846,573 Q843,575.6 838,575.6 L815,575 Q809.8,574 809.8,568 L809.8,470 Z" fill="url(#gC2plate)"/>
      <!-- right dark body -->
      <path d="M861.5,431 L945,431 L945,560 L880,625 L840,625 L861,588 L861.5,551 Z" fill="#2a2a2a"/>
      <!-- right outer light strip -->
      <path d="M909.9,431 L910.4,479 L910.9,508.5 L909.4,523.2 L902.1,537.8 L893.3,547.6 L884.5,560 L862,590 L852,607 L866,614 L906,560 L914.8,547.6 L921.6,537.8 L927.5,523.2 L930.5,508.5 L932.9,479 L933.4,431 Z" fill="#c0c0c0"/>
      <path d="M909.9,431 L910.4,479 L910.9,508.5 L909.4,523.2 L902.1,537.8 L893.3,547.6 L884.5,560 L862,590" fill="none" stroke="#8a8a8a" stroke-width="1.4"/>
      <!-- slot in plate -->
      <path d="M863,470 L876.6,470 L877.6,479 L870,533 Q866,540 860,537 L860,470 Z" fill="#151515"/>
      <path d="M877.6,479 L869.8,533" stroke="#b4b4b4" stroke-width="1.6" fill="none"/>
      
      <!-- bolt 2 -->
      <circle cx="874" cy="459.6" r="14" fill="#1c1c1c"/>
      <path d="M864.6,452 A11.8 11.8 0 0 0 870,470.6" fill="none" stroke="#b0b0b0" stroke-width="1.4"/>
      <path d="M869,450.6 A9 9 0 0 0 873,467" fill="none" stroke="#8a8a8a" stroke-width="1.2"/>
      <circle cx="885.4" cy="461" r="6.6" fill="#3a3a3a" stroke="#c4c4c4" stroke-width="1.8"/>
      <circle cx="885.4" cy="461.6" r="3" fill="#2a2a2a"/>
      <!-- cylinder -->
      <path d="M743.8,466 L809.8,466 L809.8,580 L757.7,580 L757.7,568 Q746,571 738.5,566 Q735.6,563 735.6,558 L735.6,540 L743.8,538 Z" fill="url(#gC2cyl)"/>
      <!-- top-left bracket -->
      <path d="M714,431.5 L762,431.5 L801.6,464.5 L798.3,473.5 L745.5,466.6 L732.3,446.4 Z" fill="#1c1c1c"/>
      <path d="M757,432 L778,431.5 L792.5,452 L786,455 Z" fill="#a5a5a5"/>
      <path d="M744,462.5 L797,469.6" stroke="#8a8a8a" stroke-width="1.6" fill="none"/>
      <!-- bolt 1 -->
      <ellipse cx="800.5" cy="444" rx="20" ry="17" fill="#161616"/>
      <ellipse cx="803" cy="443.5" rx="14" ry="12.5" fill="none" stroke="#666666" stroke-width="1.8"/>
      <rect x="805" y="437.6" width="12" height="13.4" fill="#9e9e9e"/>
      <circle cx="817" cy="444.4" r="6.3" fill="url(#gC2stud)"/>
      <!-- base (dark) -->
      <path d="M714,599 L757.7,578 L775,572 L809.8,572 L815,575.4 L840,575.6 L861.5,551 L861,588 L855,604 L840,625 L700,625 Z" fill="#1b1b1b"/>
      <path d="M715.5,599 L727,598.6 L815,614 L808,620 L728,604 Z" fill="#b4b4b4"/>
      <path d="M778,585 Q810,578 840,590" stroke="#3a3a3a" stroke-width="3" fill="none"/>
      <!-- adjustment pin -->
      <rect x="738.9" y="533.6" width="28" height="6.6" fill="#a9a9a9"/>
      <rect x="738.9" y="537.8" width="28" height="2.4" fill="#5e5e5e"/>
      <rect x="786.7" y="535" width="29" height="6.6" fill="#8e8e8e"/>
      <rect x="786.7" y="539.2" width="29" height="2.4" fill="#4c4c4c"/>
      <rect x="780" y="544" width="8" height="22" fill="#4a4a4a"/>
      <path d="M815,537 Q822,530 829,538 Q832,545 824,549 Q816,547 815,537 Z" fill="#161616" stroke="#9c9c9c" stroke-width="1.3"/>
      <!-- thread -->
      <line x1="797.3" y1="476" x2="793.5" y2="526" stroke="#e8e8e8" stroke-width="2" stroke-dasharray="1.3 1.2"/>
      <!-- small label on plate -->
      <g fill="#e6e6e6"><rect x="828" y="452" width="4.6" height="11" rx="1.5" opacity="0.9"/><rect x="842" y="474" width="6" height="1.6"/></g>
      <!-- dotted highlight circle -->
      <ellipse cx="781.2" cy="541.7" rx="67" ry="53.6" fill="none" stroke="#ec8c2a" stroke-width="5" stroke-dasharray="5 5.86"/>
    </g>
    <g clip-path="url(#c2)"><rect x="630" y="314" width="320" height="116.6" fill="#ff9800" fill-opacity="0.73"/></g>
    <ellipse cx="787" cy="466.8" rx="152.6" ry="147.9" fill="none" stroke="#fa9a14" stroke-width="2.4"/>
    <text x="684.8" y="373.5" font-size="20" textLength="204.2" lengthAdjust="spacingAndGlyphs">Adjustable Mechanism</text>
    <text x="676.9" y="399.5" font-size="16" textLength="223.7" lengthAdjust="spacingAndGlyphs">Delivers perfect weight balance</text>
    <text x="750.4" y="417.3" font-size="16" textLength="76" lengthAdjust="spacingAndGlyphs">for any TV.</text>
  </g>

  <!-- CIRCLE 3 : Easy-Grip Handle -->
  <g id="circle3">
    <circle cx="787" cy="809.2" r="153" fill="#ffffff"/>
    <g clip-path="url(#c3)" id="c3content">
      <defs>
        <linearGradient id="gGrip" x1="0" y1="0" x2="0" y2="1">
          <stop offset="0" stop-color="#363636"/><stop offset="0.35" stop-color="#525252"/><stop offset="0.6" stop-color="#4c4c4c"/><stop offset="1" stop-color="#2a2a2a"/>
        </linearGradient>
        <clipPath id="c3band"><rect x="620" y="640" width="340" height="128"/></clipPath>
        <clipPath id="c3low"><rect x="620" y="764.5" width="340" height="220"/></clipPath>
        <clipPath id="gripClip"><path d="M0,-27.2 L211,-27.2 A14 27.2 0 0 1 211,27.2 L0,27.2 A10 27.2 0 0 1 0,-27.2 Z"/></clipPath>
      </defs>
      <!-- bent tube (upper, mostly under the band) -->
      <path d="M729.5,650 L741,714 Q747,748 775,762 Q800,772.5 840,766.5 Q880,758 915,744" fill="none" stroke="#1b1b1b" stroke-width="21"/>
      <g clip-path="url(#c3band)">
        <path d="M729.5,650 L741,714 Q747,748 775,762 Q800,772.5 840,766.5 Q880,758 915,744" fill="none" stroke="#6e6e6e" stroke-width="15"/>
        <path d="M727.5,650 L739,714 Q745,750 775,764.5 Q800,774.5 840,768.5 Q880,760 915,746" fill="none" stroke="#8a8a8a" stroke-width="5"/>
      </g>
      <!-- lower tube leaving the grip -->
      <path d="M740,913.5 L677,962.5" stroke="#0f0f0f" stroke-width="30" fill="none"/>
      <!-- grip -->
      <g clip-path="url(#c3low)"><g transform="translate(735.2 915) rotate(-42)">
        <path d="M0,-27.2 L211,-27.2 A14 27.2 0 0 1 211,27.2 L0,27.2 A10 27.2 0 0 1 0,-27.2 Z" fill="url(#gGrip)"/>
        <g clip-path="url(#gripClip)" fill="none" stroke="#d4213d" stroke-width="3">
          <path d="M34.6,-27.4 A10.5 27.4 0 0 1 34.6,27.4"/>
          <path d="M59.9,-27.4 A10.5 27.4 0 0 1 59.9,27.4"/>
          <path d="M84.4,-27.4 A10.5 27.4 0 0 1 84.4,27.4"/>
          <path d="M108.6,-27.4 A10.5 27.4 0 0 1 108.6,27.4"/>
          <path d="M131.9,-27.4 A10.5 27.4 0 0 1 131.9,27.4"/>
          <path d="M153.8,-27.4 A10.5 27.4 0 0 1 153.8,27.4"/>
          <path d="M175.6,-27.4 A10.5 27.4 0 0 1 175.6,27.4"/>
          <path d="M197.5,-27.4 A10.5 27.4 0 0 1 197.5,27.4"/>
        </g>
        <g clip-path="url(#gripClip)" fill="none" stroke="#1a1a1a" stroke-width="1.4" stroke-opacity="0.7">
          <path d="M32.4,-27.4 A10.5 27.4 0 0 1 32.4,27.4"/><path d="M57.7,-27.4 A10.5 27.4 0 0 1 57.7,27.4"/>
          <path d="M82.2,-27.4 A10.5 27.4 0 0 1 82.2,27.4"/><path d="M106.4,-27.4 A10.5 27.4 0 0 1 106.4,27.4"/>
          <path d="M129.7,-27.4 A10.5 27.4 0 0 1 129.7,27.4"/><path d="M151.6,-27.4 A10.5 27.4 0 0 1 151.6,27.4"/>
          <path d="M173.4,-27.4 A10.5 27.4 0 0 1 173.4,27.4"/>
        </g>
        <!-- near end cap -->
        <ellipse cx="0" cy="0" rx="10.5" ry="27.6" fill="#2b2b2b"/>
        <ellipse cx="0.4" cy="0" rx="8.6" ry="24.4" fill="#d6223f"/>
        <ellipse cx="-0.6" cy="-0.4" rx="6.6" ry="16.8" fill="#101010"/>
      </g></g>
      <!-- tube entering the cap (drawn over the hole) -->
      <path d="M737.5,915.4 L706,940" stroke="#0f0f0f" stroke-width="30" fill="none"/>
      <path d="M724,912 L688,940" stroke="#3c3c3c" stroke-width="10" fill="none" stroke-linecap="round"/>
      <path d="M722,911.4 L690,936.2" stroke="#6e6e6e" stroke-width="4" fill="none" stroke-linecap="round"/>
      <path d="M719,912.4 L692,933.4" stroke="#a8a8a8" stroke-width="1.6" fill="none" stroke-linecap="round"/>
    </g>
    <g clip-path="url(#c3)"><rect x="630" y="652" width="320" height="116" fill="#ff9800" fill-opacity="0.73"/></g>
    <circle cx="787" cy="809.2" r="152.2" fill="none" stroke="#fa9a14" stroke-width="2.4"/>
    <text x="711.5" y="701.8" font-size="20" textLength="155.5" lengthAdjust="spacingAndGlyphs">Easy-Grip Handle</text>
    <text x="711.5" y="727.7" font-size="16" textLength="153.7" lengthAdjust="spacingAndGlyphs">Makes pull-down and</text>
    <text x="722.6" y="745.2" font-size="16" textLength="130.5" lengthAdjust="spacingAndGlyphs">placement a snap.</text>
  </g>

  <!-- CIRCLE 4 : Heavy Duty Steel -->
  <g id="circle4">
    <circle cx="527" cy="1033" r="152" fill="#ffffff"/>
    <g clip-path="url(#c4)" id="c4content">
      <defs>
        <linearGradient id="gC4plate" x1="0" y1="0" x2="0" y2="1">
          <stop offset="0" stop-color="#929292"/><stop offset="0.5" stop-color="#8e8e8e"/><stop offset="1" stop-color="#888888"/>
        </linearGradient>
        <linearGradient id="gC4rail" x1="0" y1="0" x2="1" y2="0">
          <stop offset="0" stop-color="#1a1a1a"/><stop offset="0.1" stop-color="#1a1a1a"/><stop offset="0.12" stop-color="#9a9a9a"/>
          <stop offset="0.5" stop-color="#a0a0a0"/><stop offset="0.85" stop-color="#989898"/><stop offset="0.88" stop-color="#161616"/><stop offset="1" stop-color="#161616"/>
        </linearGradient>
      </defs>
      <!-- plate -->
      <rect x="425.8" y="941.8" width="270" height="172" fill="url(#gC4plate)"/>
      <rect x="425.8" y="941.8" width="270" height="9.4" fill="#5c5c5c"/>
      <rect x="425.8" y="1113.4" width="270" height="12.4" fill="#303030"/>
      <rect x="425.8" y="1113.4" width="270" height="2.2" fill="#1a1a1a"/>
      <rect x="425.8" y="1121.5" width="270" height="2" fill="#555555"/>
      <rect x="425.8" y="941.8" width="2" height="184" fill="#5a5a5a"/>
      <!-- grooves -->
      <g fill="none" stroke="#161616" stroke-width="4.8">
        <path d="M690,972.7 L465.1,972.7 Q457.3,972.7 457.3,980.5 L457.3,992.8 Q457.3,999.6 465.1,999.6 L615.1,999.6 Q624.4,999.6 624.4,1008.3 L624.4,1059.3 Q624.4,1068.6 615.1,1068.6 L465.1,1068.6 Q457.3,1068.6 457.3,1076.3 L457.3,1098 Q457.3,1105.7 465.1,1105.7 L690,1105.7"/>
        <rect x="459.4" y="1018.1" width="143.7" height="40" rx="9" fill="#7a7a7a"/>
      </g>
      <path d="M440,1004.6 L612,1004.6 Q619.5,1004.6 619.5,1012" fill="none" stroke="#929292" stroke-width="1.2"/>
      <path d="M462,1110.4 L690,1110.4" fill="none" stroke="#8a8a8a" stroke-width="1"/>
      <!-- slot interior -->
      <rect x="466" y="1025.3" width="130.5" height="21.8" rx="2.5" fill="#131313"/>
      <rect x="466" y="1025.3" width="7.2" height="21.8" rx="1.5" fill="#f4f4f4"/>
      <!-- right octagon -->
      <path d="M646.5,1005.2 L658.4,995.9 L700,992 L700,1070 L658.4,1068.6 L646.5,1054.7 Z" fill="#2b2b2b" stroke="#131313" stroke-width="4" stroke-linejoin="round"/>
      <!-- left dark bar below plate -->
      <rect x="481" y="1125.8" width="12.5" height="70" fill="#262626"/>
      <rect x="483.4" y="1125.8" width="2.2" height="70" fill="#4a4a4a"/>
      <!-- rail -->
      <rect x="492.3" y="926.3" width="29.7" height="270" fill="url(#gC4rail)"/>
      <g fill="#171717">
        <circle cx="506.2" cy="936.5" r="2.8" fill="#e8e8e8"/><circle cx="506.2" cy="951" r="3"/><circle cx="506.2" cy="966.5" r="3"/><circle cx="506.2" cy="980.6" r="3"/>
        <circle cx="506.2" cy="994.3" r="3.5"/><circle cx="506.2" cy="1007.3" r="3.5"/><circle cx="506.2" cy="1020.6" r="3.5"/>
        <circle cx="506.2" cy="1033.9" r="3.5"/><circle cx="506.2" cy="1047.5" r="3.5"/><circle cx="506.2" cy="1060.8" r="3.5"/>
        <circle cx="506.2" cy="1074.1" r="3.5"/><circle cx="506.2" cy="1087.8" r="3.5"/><circle cx="506.2" cy="1101" r="3.5"/>
        <circle cx="506.2" cy="1114.3" r="3.5"/>
      </g>
      <g fill="#5c5c5c"><circle cx="506.6" cy="1034.6" r="1.7"/><circle cx="506.6" cy="1048.2" r="1.7"/><circle cx="506.6" cy="1008" r="1.5"/></g>
      <circle cx="506.2" cy="1139.6" r="3.6" fill="#7e7e7e" stroke="#a2a2a2" stroke-width="0.9"/>
      <circle cx="521.6" cy="1156" r="1.8" fill="#3a3a3a"/>
    </g>
    <g clip-path="url(#c4)"><rect x="370" y="876" width="320" height="115.8" fill="#ff9800" fill-opacity="0.73"/></g>
    <circle cx="527" cy="1033" r="151.2" fill="none" stroke="#fa9a14" stroke-width="2.4"/>
    <text x="452.1" y="922.5" font-size="20" textLength="150.3" lengthAdjust="spacingAndGlyphs">Heavy Duty Steel</text>
    <text x="427.1" y="945.7" font-size="16" textLength="203.2" lengthAdjust="spacingAndGlyphs">Made form high quality steel</text>
    <text x="424.3" y="963.8" font-size="16" textLength="205.3" lengthAdjust="spacingAndGlyphs">with powder coating, durable</text>
    <text x="473" y="981.9" font-size="16" textLength="109.5" lengthAdjust="spacingAndGlyphs">&amp; good looking.</text>
  </g>
</svg>
</body>
</html>
